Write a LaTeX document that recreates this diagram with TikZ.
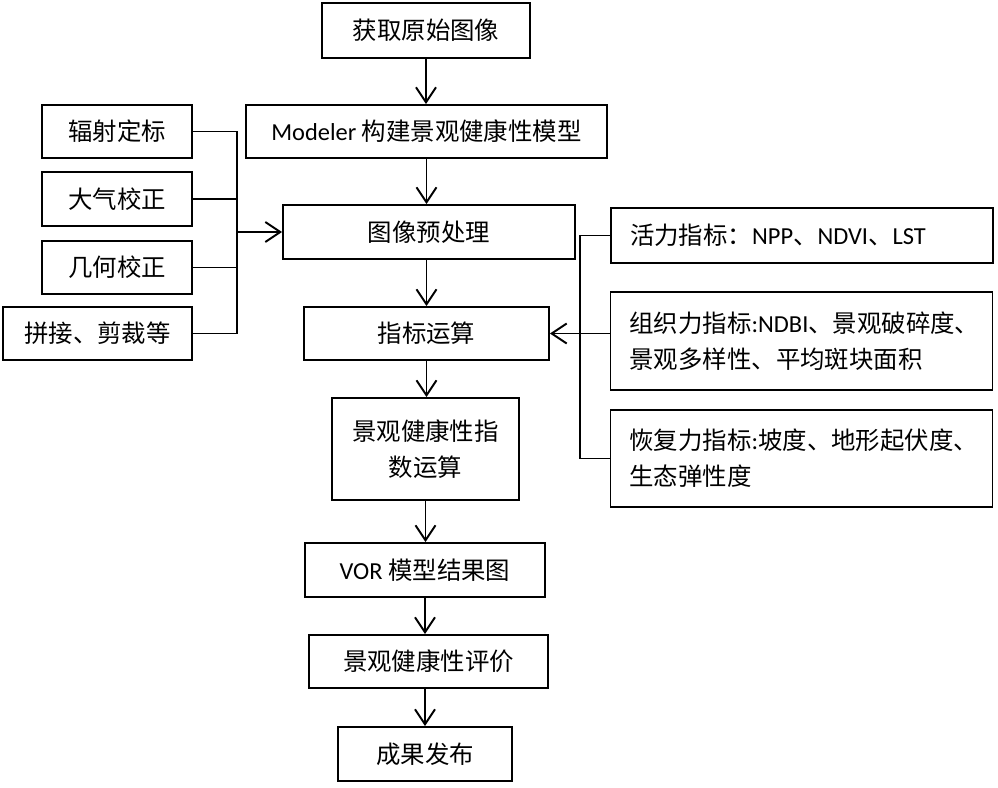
\documentclass[tikz,border=0pt]{standalone}
\usepackage{fontspec}
\setmainfont{Carlito}
\newfontfamily\cjk{Noto Sans CJK SC}
\newfontfamily\calfont{Carlito}
\usetikzlibrary{arrows.meta,positioning}
\tikzset{
  >={Straight Barb[length=3mm,width=4mm]},
  box/.style={draw,rectangle,inner sep=0pt,font=\cjk\fontsize{13.9}{20.5}\selectfont},
  sidebox/.style={box,align=left,inner xsep=3.8mm,text width=68.8mm,minimum height=19.6mm},
}

\begin{document}
\begin{tikzpicture}[x=0.2mm,y=-0.2mm,line width=1.1pt]
        \useasboundingbox (0,0) rectangle (998,788);

        % main chain
        \node[box,minimum width=41.6mm,minimum height=11mm]    (get)   at (426,30.5)  {获取原始图像};
        \node[box,minimum width=72.2mm,minimum height=10.6mm]  (model) at (426.5,131.5) {{\calfont Modeler} 构建景观健康性模型};
        \node[box,minimum width=58.4mm,minimum height=10.8mm]  (pre)   at (429,232)   {图像预处理};
        \node[box,minimum width=49mm,minimum height=10.6mm]    (calc)  at (426.5,333.5) {指标运算};
        \node[box,minimum width=37.4mm,minimum height=20.4mm,align=center] (idx) at (425.5,449) {景观健康性指\\数运算};
        \node[box,minimum width=48mm,minimum height=10.8mm]    (vor)   at (425,570)   {{\calfont VOR} 模型结果图};
        \node[box,minimum width=47.8mm,minimum height=10.6mm]  (eval)  at (428.5,661.5) {景观健康性评价};
        \node[box,minimum width=34.8mm,minimum height=10.8mm]  (pub)   at (425,754)   {成果发布};

        % preprocessing steps
        \node[box,minimum width=30mm,minimum height=10.6mm]    (rad)   at (117,131.5) {辐射定标};
        \node[box,minimum width=30mm,minimum height=10.8mm]    (atm)   at (117,199)   {大气校正};
        \node[box,minimum width=30mm,minimum height=10.6mm]    (geo)   at (117,267.5) {几何校正};
        \node[box,minimum width=37.8mm,minimum height=10.6mm]  (cut)   at (97.5,333.5) {拼接、剪裁等};

        % indicators
        \node[sidebox,minimum height=11mm]  (vit) at (802,235.5) {活力指标：{\calfont NPP}、{\calfont NDVI}、{\calfont LST}};
        \node[sidebox]                      (org) at (801.5,341) {组织力指标{\calfont :}{\calfont NDBI}、景观破碎度、\\景观多样性、平均斑块面积};
        \node[sidebox,minimum height=19.4mm] (rec) at (801.5,458.5) {恢复力指标{\calfont :}坡度、地形起伏度、\\生态弹性度};

        \coordinate (lbus) at (237,232);
        \coordinate (rbus) at (580,333.5);

        \draw[->] (get.south) -- (get.south |- model.north);
        \draw[->] (model.south) -- (model.south |- pre.north);
        \draw[->] (calc.south |- pre.south) -- (calc.north);
        \draw[->] (calc.south) -- (calc.south |- idx.north);
        \draw[->] (idx.south) -- (idx.south |- vor.north);
        \draw[->] (vor.south) -- (vor.south |- eval.north);
        \draw[->] (vor.south |- eval.south) -- (pub.north -| vor.south);

        \draw (rad.east) -| (lbus);
        \draw (cut.east) -| (lbus);
        \draw (atm.east) -- (atm.east -| lbus);
        \draw (geo.east) -- (geo.east -| lbus);
        \draw[->] (lbus) -- (pre.west);

        \draw (vit.west) -| (rbus);
        \draw (rec.west) -| (rbus);
        \draw[->] (org.west |- calc.east) -- (calc.east);

\end{tikzpicture}
\end{document}
